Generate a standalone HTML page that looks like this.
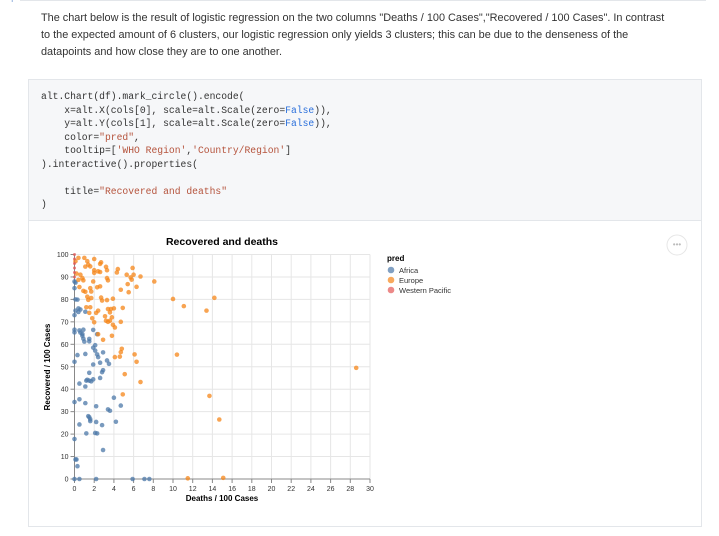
<!DOCTYPE html>
<html><head><meta charset="utf-8"><style>
body{margin:0;width:719px;height:536px;background:#fff;position:relative;overflow:hidden;font-family:"Liberation Sans",sans-serif}
.abs{position:absolute}
#intro{left:41px;top:10px;width:670px;font-size:10.9px;line-height:17px;color:#333;white-space:nowrap}
#code{left:28px;top:79px;width:674px;height:142px;background:#f6f7f9;border:1px solid #e3e6ea;box-sizing:border-box}
#code pre{margin:0;position:absolute;left:12px;top:10px;font-family:"Liberation Mono",monospace;font-size:9.7px;line-height:13.5px;color:#333}
.s{color:#b5533c}.k{color:#2a6fdb}
#out{left:28px;top:221px;width:674px;height:306px;border:1px solid #e3e6ea;border-top:none;box-sizing:border-box}
</style></head><body>
<div class="abs" style="left:20px;top:0;width:686px;height:1px;background:#e3e6ea"></div>
<div class="abs" style="left:9px;top:-6px;font-size:11px;color:#7aa0d6">+</div>
<div id="intro" class="abs">The chart below is the result of logistic regression on the two columns "Deaths / 100 Cases","Recovered / 100 Cases". In contrast<br>to the expected amount of 6 clusters, our logistic regression only yields 3 clusters; this can be due to the denseness of the<br>datapoints and how close they are to one another.</div>
<div id="code" class="abs"><pre>alt.Chart(df).mark_circle().encode(
    x=alt.X(cols[0], scale=alt.Scale(zero=<span class="k">False</span>)),
    y=alt.Y(cols[1], scale=alt.Scale(zero=<span class="k">False</span>)),
    color=<span class="s">"pred"</span>,
    tooltip=[<span class="s">'WHO Region'</span>,<span class="s">'Country/Region'</span>]
).interactive().properties(

    title=<span class="s">"Recovered and deaths"</span>
)</pre></div>
<div id="out" class="abs"></div>
<svg class="abs" style="left:0;top:0" width="719" height="536" id="chart">
<g id="grid"></g><g id="axes"></g><g id="marks"></g>
<text x="222" y="245" text-anchor="middle" font-size="10.5" font-weight="bold" fill="#000">Recovered and deaths</text>
<text x="222" y="501" text-anchor="middle" font-size="8" font-weight="bold" fill="#000">Deaths / 100 Cases</text>
<text transform="translate(50,367) rotate(-90)" text-anchor="middle" font-size="8" font-weight="bold" fill="#000">Recovered / 100 Cases</text>
<g>
<text x="387" y="261" font-size="8" font-weight="bold">pred</text>
<circle cx="391" cy="270" r="3.3" fill="#4c78a8" opacity="0.7"/>
<text x="399" y="273" font-size="7.5" fill="#333">Africa</text>
<circle cx="391" cy="280" r="3.3" fill="#f58518" opacity="0.7"/>
<text x="399" y="283" font-size="7.5" fill="#333">Europe</text>
<circle cx="391" cy="290" r="3.3" fill="#e45756" opacity="0.7"/>
<text x="399" y="293" font-size="7.5" fill="#333">Western Pacific</text>
</g>
<g>
<circle cx="677" cy="245" r="10" fill="#fff" stroke="#e6e6e6"/>
<text x="677" y="247" text-anchor="middle" font-size="8" fill="#bbb">•••</text>
</g>
</svg>
<script>
const xTicks=[0,2,4,6,8,10,12,14,16,18,20,22,24,26,28,30];
const yTicks=[0,10,20,30,40,50,60,70,80,90,100];
const africaX=[0.1,0,0,0.1,0.3,0.4,0.6,0.1,0,0.4,1.1,0,0,0.5,0.9,0.6,0.8,0.8,1.5,1.9,2.3,0.9,1.0,1.5,2.1,1.9,2.1,2.9,0.3,1.1,2.3,2.4,3.3,3.5,2.6,0,1.9,1.5,2.8,2.9,2.6,1.3,1.5,1.7,1.9,1.2,0.5,1.1,0.5,1.1,0,4.0,3.4,3.6,2.2,4.7,1.4,1.5,1.6,1.6,2.2,4.2,0.5,2.8,1.2,2.1,2.3,0,2.9,0.1,0.2,0.3,0,0.5,2.2,5.9,7.1,7.6];
const africaY=[87.5,85,88,80,79.9,76,75.5,75,73,74.4,74.5,66.5,65.3,66.2,66.5,65.2,64.6,63.8,62.4,66.4,64.5,62.5,61.2,61.3,59.6,58.5,57.2,56.4,55.2,55.7,55.5,54.3,52.8,51.3,51.8,52.2,51,47.3,47.6,48.5,45,44.2,43.8,43.5,44.4,43.8,42.5,41.2,35.5,33.8,34.3,36.2,31,30.4,32.4,32.7,28,27.5,26.6,25.8,25.4,25.5,24.3,24,20.3,20.5,20.3,17.8,12.9,8.7,8.7,5.7,0,0,0,0,0,0];
const europeX=[0.4,1.0,1.3,2,2.7,2.6,1.4,1.1,1.6,3.2,2.0,2.4,2.6,3.3,4.4,4.3,0.2,2,0.6,5.3,6.0,6.7,5.9,0.8,0.4,0.9,3.3,3.4,1.9,5.8,5.7,8.1,5.4,1.6,2.3,2.6,0.5,6.3,1.7,1.1,0.9,4.7,5.5,1.3,1.7,1.4,2.7,2.8,3.3,3.9,10,11.1,14.2,13.4,1.2,1.6,2.4,2.2,1.5,3.4,3.7,3.6,4,4.9,1.8,2.0,3.1,3.2,3.4,3.6,3.8,4.7,3.9,4.1,2.4,3.8,2.9,4.8,4.7,6.1,10.4,4.1,4.6,6.3,5.1,6.7,4.9,13.7,28.6,14.7,11.5,15.1,0.1];
const europeY=[98.5,98.5,97,98,96.5,95.8,95.5,94.6,94.7,94.5,93,92.5,92.2,93,93.5,92,91.5,91.8,91,91,91,90.2,94,89.5,88.7,88.5,89.5,88.5,88,88.8,89.8,88,86.8,85,85.4,85.8,85.5,85.6,83.5,83.4,83.8,84.3,83.2,81.2,80.6,79.8,80.8,79.5,79.7,80.3,80.2,77,80.7,75,76.5,76.5,75,74,74,75.7,75.7,74.2,76,76.2,71.6,69.8,72.5,70.5,70,70.5,72,70,68.7,67.5,64.5,63.8,62,58,56.5,55.5,55.4,54.3,54.5,52.2,46.7,43.2,37.7,37,49.5,26.5,0.3,0.5,97];
const wpX=[0,0,0,0,0,0];
const wpY=[100,98,96,94,92,90];
const NS='http://www.w3.org/2000/svg';
const X0=74.5,X1=370,Y0=479,Y1=254.5;
function sx(v){return X0+(v-0)/(30-0)*(X1-X0);}
function sy(v){return Y0-(v-0)/(100-0)*(Y0-Y1);}
function mk(t,a,p){const e=document.createElementNS(NS,t);for(const k in a)e.setAttribute(k,a[k]);p.appendChild(e);return e;}
const grid=document.getElementById('grid'),axes=document.getElementById('axes'),marks=document.getElementById('marks');
xTicks.forEach(t=>{
  const l=mk('line',{x1:sx(t),x2:sx(t),y1:Y1,y2:Y0,stroke:'#e6e6e6'},grid);
  
  
  mk('line',{x1:sx(t),x2:sx(t),y1:Y0,y2:Y0+4,stroke:'#888'},axes);
  const tx=mk('text',{x:sx(t),y:Y0+12,'text-anchor':'middle','font-size':7,fill:'#333'},axes);
  tx.textContent=t;
  
  
});
yTicks.forEach(t=>{
  const l=mk('line',{x1:X0,x2:X1,y1:sy(t),y2:sy(t),stroke:'#e6e6e6'},grid);
  
  
  mk('line',{x1:X0-4,x2:X0,y1:sy(t),y2:sy(t),stroke:'#888'},axes);
  const tx=mk('text',{x:X0-6,y:sy(t)+2.5,'text-anchor':'end','font-size':7,fill:'#333'},axes);
  tx.textContent=t;
  
  
});
mk('line',{x1:X0,x2:X1,y1:Y0,y2:Y0,stroke:'#888'},axes);
mk('line',{x1:X0,x2:X0,y1:Y1,y2:Y0,stroke:'#888'},axes);
function series(xs,ys,col,name,r){
  xs.forEach((x,i)=>{
    const c=mk('circle',{cx:sx(x),cy:sy(ys[i]),r:r,fill:col,opacity:0.75},marks);
    
    
  });
}
series(africaX,africaY,'#4c78a8','point-africa',2.3);
series(europeX,europeY,'#f58518','point-europe',2.3);
series(wpX,wpY,'#e45756','point-western-pacific',1.5);
</script>
</body></html>
